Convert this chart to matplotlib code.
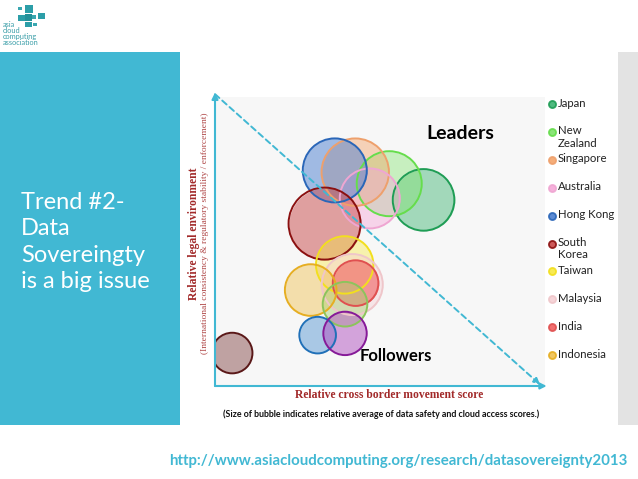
import matplotlib.pyplot as plt
from matplotlib.patches import Rectangle

# bubble data
countries = ['Japan', 'New Zealand', 'Singapore', 'Australia', 'Hong Kong',
             'South Korea', 'Taiwan', 'Malaysia', 'India', 'Indonesia',
             'Philippines', 'Thailand', 'Vietnam', 'China']
cross_border = [6.32, 5.28, 4.25, 4.69, 3.63, 3.32, 3.93, 4.16, 4.26, 2.90,
                3.94, 3.11, 3.94, 0.52]
legal_env = [6.44, 7.00, 7.40, 6.49, 7.46, 5.62, 4.19, 3.51, 3.56, 3.32,
             2.83, 1.76, 1.82, 1.14]
bubble_score = [30.8, 32.5, 33.7, 30.0, 32.0, 36.0, 28.7, 30.5, 22.8, 25.8,
                22.3, 18.3, 21.7, 20.3]
legend_names = ['Japan', 'New\nZealand', 'Singapore', 'Australia', 'Hong Kong',
                'South\nKorea', 'Taiwan', 'Malaysia', 'India', 'Indonesia']

edge_cols = ['#1f9d55', '#66dd4c', '#eea06c', '#efa6d2', '#2a66b8', '#8b1010',
             '#f2df1e', '#efc6ca', '#e05050', '#e6ae22', '#8cc45c', '#2070b8',
             '#861a98', '#5a1818']
face_cols = ['#3cb371', '#7fe36b', '#f4a46a', '#f5a8d8', '#4a7fd0', '#c84848',
             '#f8e840', '#f5d0d4', '#f06060', '#f0c050', '#a8d070', '#4a90d0',
             '#b050c0', '#9a6a6a']
face_alpha = [0.45, 0.4, 0.45, 0.45, 0.5, 0.5, 0.4, 0.45, 0.6, 0.45, 0.45, 0.45,
              0.5, 0.6]

cyan = '#41b8d3'
red_lab = '#a22a2a'

fig = plt.figure(figsize=(6.38, 4.79), dpi=100)

# background layer in pixel coordinates
bg = fig.add_axes([0, 0, 1, 1])
bg.set_xlim(0, 638)
bg.set_ylim(479, 0)
bg.axis('off')
bg.add_patch(Rectangle((0, 52), 180, 373, color=cyan, lw=0))
bg.add_patch(Rectangle((618, 52), 20, 373, color='#e3e3e3', lw=0))

# logo
for (x0, y0, w, h, c) in [(18, 7, 4, 3, '#3aa7b0'), (25, 5, 8, 8, '#2c9ea8'),
                          (18, 15, 7, 6, '#2c9ea8'), (25, 14, 7, 7, '#239099'),
                          (32, 15, 4, 4, '#3aa7b0'), (38, 13, 7, 6, '#2c9ea8'),
                          (25, 22, 7, 5, '#2c9ea8'), (33, 23, 4, 3, '#3aa7b0')]:
    bg.add_patch(Rectangle((x0, y0), w, h, color=c, lw=0))
for i, word in enumerate(['asia', 'cloud', 'computing', 'association']):
    bg.text(3, 24.5 + i * 6, word, fontsize=5.3, color='#3a9ea8',
            family='Lato', va='center')

bg.text(21, 242, 'Trend #2-\nData\nSovereingty\nis a big issue', color='white',
        fontsize=17, family='Lato', va='center', ha='left', linespacing=1.3)

bg.text(398, 461, 'http://www.asiacloudcomputing.org/research/datasovereignty2013',
        color=cyan, fontsize=10.8, family='Lato', weight='bold',
        ha='center', va='center')

# axis titles
bg.text(194, 234, 'Relative legal environment', rotation=90, color=red_lab,
        fontsize=8.4, family='Liberation Serif', weight='bold',
        ha='center', va='center')
bg.text(205, 233, '(International consistency & regulatory stability / enforcement)',
        rotation=90, color='#b04848', fontsize=6.8, family='Liberation Serif',
        ha='center', va='center')
bg.text(389, 395, 'Relative cross border movement score', color=red_lab,
        fontsize=8.4, family='Liberation Serif', weight='bold',
        ha='center', va='center')
bg.text(381, 414, '(Size of bubble indicates relative average of data safety '
        'and cloud access scores.)', color='#111111', fontsize=6.4,
        family='Lato', weight='bold', ha='center', va='center')

# legend
for i, name in enumerate(legend_names):
    yy = 104 + i * 27.9
    bg.scatter(552, yy, s=26, color=face_cols[i], edgecolors=edge_cols[i],
               linewidths=1.3, alpha=0.9, zorder=3)
    bg.text(558, yy - 6.5, name, fontsize=8.2, family='Lato', color='#222222',
            va='top', ha='left', linespacing=1.15)

# bubble chart
ax = fig.add_axes([215 / 638, 1 - 386 / 479, 330 / 638, 289 / 479])
ax.set_zorder(2)
ax.set_facecolor('#f7f7f7')
ax.set_xlim(0, 10)
ax.set_ylim(0, 10)
ax.set_xticks([])
ax.set_yticks([])
for sp in ax.spines.values():
    sp.set_visible(False)

for i in range(len(countries)):
    d = 2 * bubble_score[i] * 0.72
    ax.scatter(cross_border[i], legal_env[i], s=d ** 2,
               color=face_cols[i], alpha=face_alpha[i], linewidths=0, zorder=2)
    ax.scatter(cross_border[i], legal_env[i], s=d ** 2, facecolors='none',
               edgecolors=edge_cols[i], linewidths=1.4, zorder=3)

ax.annotate('', xy=(0, 10.15), xytext=(0, 0), annotation_clip=False,
            arrowprops=dict(arrowstyle='-|>', color=cyan, lw=1.5,
                            shrinkA=0, shrinkB=0, mutation_scale=9))
ax.annotate('', xy=(10.05, 0), xytext=(0, 0), annotation_clip=False,
            arrowprops=dict(arrowstyle='-|>', color=cyan, lw=1.5,
                            shrinkA=0, shrinkB=0, mutation_scale=9))
ax.annotate('', xy=(9.85, 0.05), xytext=(0, 10.1), annotation_clip=False,
            arrowprops=dict(arrowstyle='-|>', color=cyan, lw=1.4, ls=(0, (3, 2)),
                            shrinkA=0, shrinkB=0, mutation_scale=9))

ax.text(7.42, 8.75, 'Leaders', fontsize=14, weight='bold', family='Lato',
        ha='center', va='center')
ax.text(5.48, 1.04, 'Followers', fontsize=12, weight='bold', family='Lato',
        ha='center', va='center')

fig.savefig('out.png', dpi=100)
